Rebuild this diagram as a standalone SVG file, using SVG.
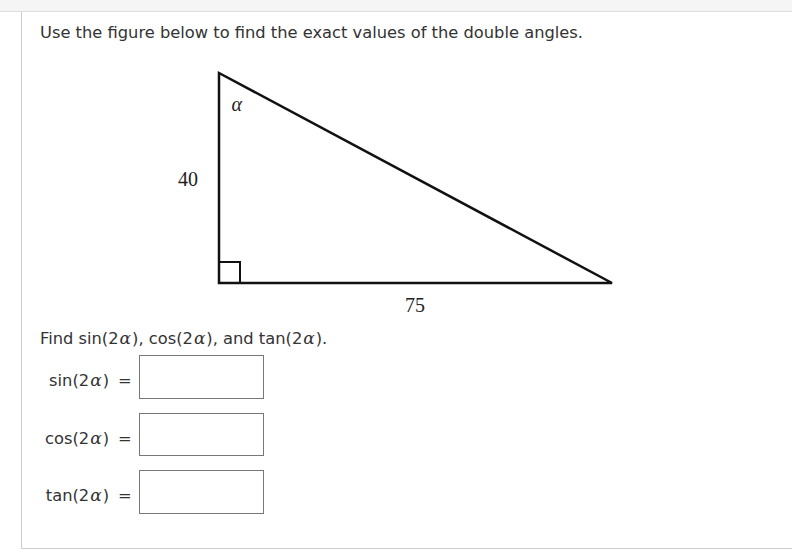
<svg xmlns="http://www.w3.org/2000/svg" width="792" height="552" viewBox="0 0 792 552">
<style>
.t{font-family:Verdana,"DejaVu Sans",sans-serif;font-size:16.3px;fill:#333}
.g{font-family:"DejaVu Serif","Liberation Serif",serif;font-style:italic;font-size:17px}
.s{font-family:"Liberation Serif","DejaVu Serif",serif;font-size:20px;fill:#222}
.box{fill:#fff;stroke:#777;stroke-width:1}
</style>
<rect x="0" y="0" width="792" height="552" fill="#fff"/>
<rect x="0" y="0" width="792" height="11" fill="#f5f5f5"/>
<line x1="0" y1="11.5" x2="792" y2="11.5" stroke="#ddd" stroke-width="1"/>
<path d="M21.5 12 V548.5 H792" fill="none" stroke="#ccc" stroke-width="1"/>
<text class="t" x="40" y="38">Use the figure below to find the exact values of the double angles.</text>
<g id="triangle">
<path d="M219 73 L219 283 L612 283 Z" fill="none" stroke="#111" stroke-width="2.5" stroke-linejoin="miter"/>
<path d="M219 262 H240 V283" fill="none" stroke="#111" stroke-width="2"/>
<text class="s g" x="231.5" y="111" font-size="16">α</text>
<text class="s" x="178" y="186">40</text>
<text class="s" x="405" y="311.5">75</text>
</g>
<text class="t" x="40" y="344">Find sin(2<tspan class="g" dx="1">α</tspan><tspan dx="1">), cos(2</tspan><tspan class="g" dx="1">α</tspan><tspan dx="1">), and tan(2</tspan><tspan class="g" dx="1">α</tspan><tspan dx="1">).</tspan></text>
<g id="sin">
<text class="t" x="109" y="386" text-anchor="end">sin(2<tspan class="g" dx="1">α</tspan><tspan dx="1">)</tspan></text>
<text class="t" x="118" y="386">=</text>
<rect class="box" x="139.5" y="355.5" width="124" height="43"/>
</g>
<g id="cos">
<text class="t" x="109" y="444" text-anchor="end">cos(2<tspan class="g" dx="1">α</tspan><tspan dx="1">)</tspan></text>
<text class="t" x="118" y="444">=</text>
<rect class="box" x="139.5" y="413.5" width="124" height="42"/>
</g>
<g id="tan">
<text class="t" x="109" y="501" text-anchor="end">tan(2<tspan class="g" dx="1">α</tspan><tspan dx="1">)</tspan></text>
<text class="t" x="118" y="501">=</text>
<rect class="box" x="139.5" y="470.5" width="124" height="43"/>
</g>
</svg>
